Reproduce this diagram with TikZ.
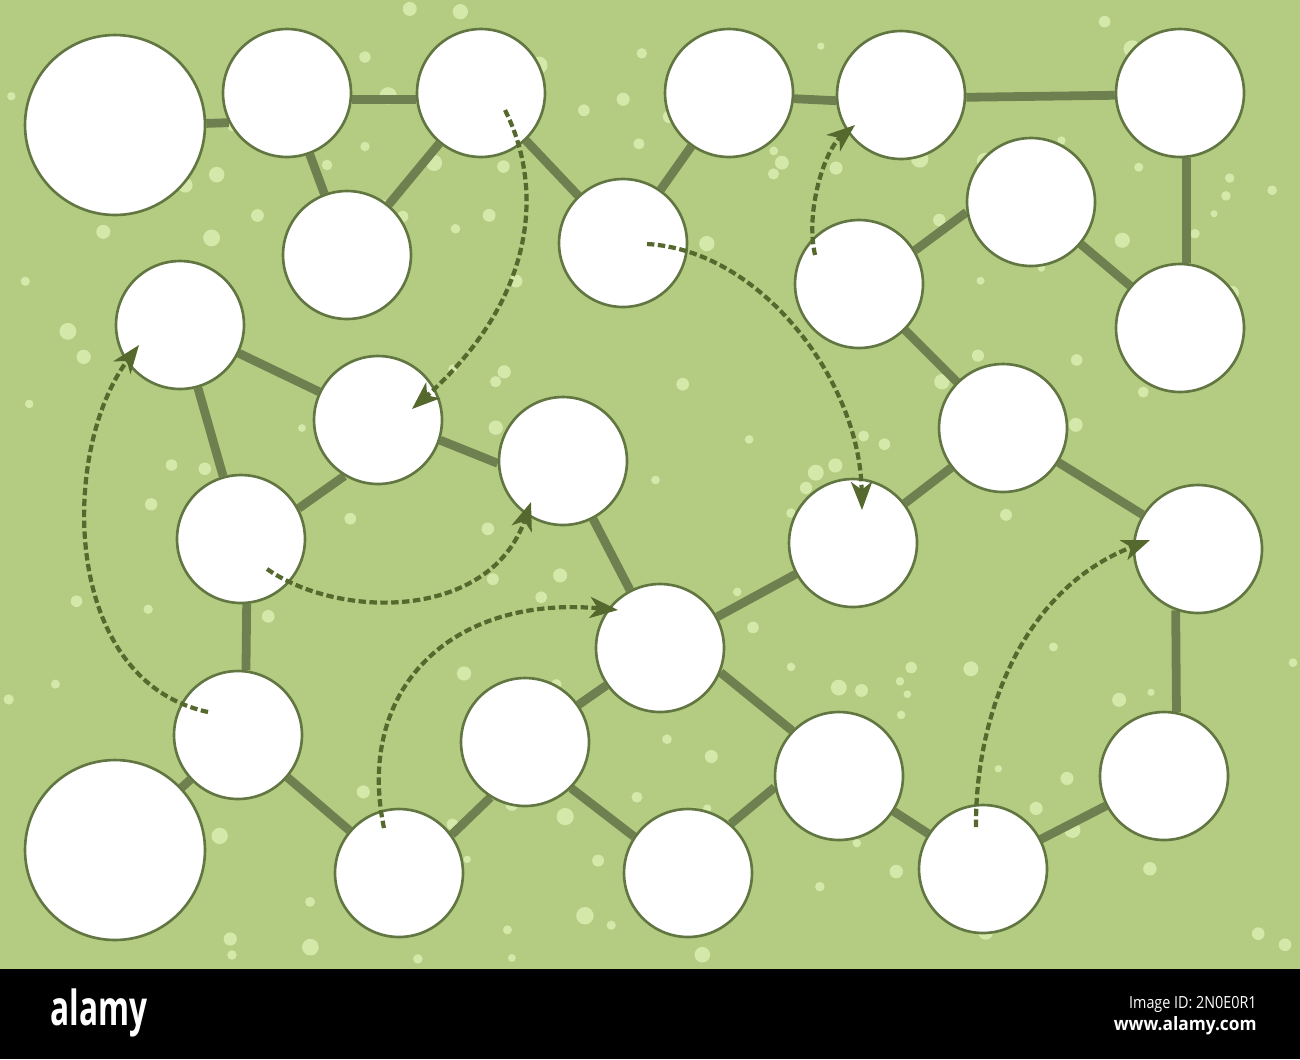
\documentclass[tikz,border=0pt]{standalone}
\usepackage{fontspec}
\newfontfamily\stripfont{Open Sans}
\usetikzlibrary{arrows.meta}
\definecolor{field}{HTML}{B3CC82}
\definecolor{speck}{HTML}{D4E8AA}
\definecolor{road}{HTML}{6F8050}
\definecolor{rim}{HTML}{627642}
\definecolor{hop}{HTML}{55682D}
\pgfdeclarelayer{bg}
\pgfsetlayers{bg,main}
\tikzset{
  spot/.style={circle,draw=rim,fill=white,line width=1.5pt,minimum size=2.56cm,inner sep=0pt},
  bigspot/.style={spot,minimum size=3.6cm},
  link/.style={draw=road,line width=5pt},
  jump/.style={draw=hop,line width=2.4pt,dash pattern=on 4.2pt off 2pt,-{Stealth[length=16pt,width=12pt,inset=4.5pt]}},
  striptext/.style={text=white,inner sep=0pt}
}
\begin{document}
\begin{tikzpicture}[x=0.02cm,y=-0.02cm]
\useasboundingbox (0,0) rectangle (1300,1059);
\begin{pgfonlayer}{bg}
  \fill[field] (0,0) rectangle (1300,969);
  \pgfmathsetseed{2024}
  \foreach \k in {1,...,190}{
    \pgfmathsetmacro\dx{5+1290*rnd}
    \pgfmathsetmacro\dy{5+955*rnd}
    \pgfmathsetmacro\dr{2+3*rnd}
    \fill[speck] (\dx,\dy) circle (\dr pt);
  }
\end{pgfonlayer}
\node[bigspot] (p1) at (115,125) {};
\node[bigspot] (p24) at (115,850) {};
\foreach \n/\x/\y in {p2/287/93, p3/481/93, p4/729/93, p5/901/95, p6/1180/93,
  p7/347/255, p8/623/243, p9/1031/202, p10/859/284, p11/1180/328,
  p12/180/325, p13/378/420, p14/563/461, p15/1003/428, p16/241/539,
  p17/853/543, p18/1198/549, p19/660/648, p20/238/735, p21/525/742,
  p22/839/776, p23/1164/776, p25/399/873, p26/688/873, p27/983/869}
  \node[spot] (\n) at (\x,\y) {};
\begin{pgfonlayer}{bg}
  \draw[link] (p1.1) -- (p2.207);
  \draw[link] (p2.-6) -- (p3.186);
  \draw[link] (p2) -- (p7);
  \draw[link] (p3) -- (p7);
  \draw[link] (p3) -- (p8);
  \draw[link] (p8) -- (p4);
  \draw[link] (p4.-5) -- (p5.185);
  \draw[link] (p5.-2) -- (p6.182);
  \draw[link] (p6.-84) -- (p11.84);
  \draw[link] (p11) -- (p9);
  \draw[link] (p9.189) -- (p10.31);
  \draw[link] (p10) -- (p15);
  \draw[link] (p15) -- (p18);
  \draw[link] (p15) -- (p17);
  \draw[link] (p17) -- (p19);
  \draw[link] (p19) -- (p14);
  \draw[link] (p13.-18) -- (p14.182);
  \draw[link] (p13) -- (p12);
  \draw[link] (p12) -- (p16);
  \draw[link] (p13.239) -- (p16.28);
  \draw[link] (p16.-85) -- (p20.83);
  \draw[link] (p20) -- (p24);
  \draw[link] (p20) -- (p25);
  \draw[link] (p25.36) -- (p21.238);
  \draw[link] (p21) -- (p19);
  \draw[link] (p19.-22) -- (p22.136);
  \draw[link] (p21.-45) -- (p26.146);
  \draw[link] (p26.49) -- (p22.190);
  \draw[link] (p22) -- (p27);
  \draw[link] (p27) -- (p23);
  \draw[link] (p18.250) -- (p23.79);
\end{pgfonlayer}
\coordinate (from3) at (505,110);   \coordinate (to13) at (412,409);
\coordinate (from8) at (647,244);   \coordinate (to17) at (862,510);
\coordinate (from10) at (815,255);  \coordinate (to5) at (855,125);
\coordinate (from20) at (208,712);  \coordinate (to12) at (139,345);
\coordinate (from16) at (267,569);  \coordinate (to14) at (531,502);
\coordinate (from25) at (384,828);  \coordinate (to19) at (618,610);
\coordinate (from27) at (976,827);  \coordinate (to18) at (1150,540);
\draw[jump] (from3) .. controls (545,190) and (535,300) .. (to13);
\draw[jump] (from8) .. controls (760,250) and (860,380) .. (to17);
\draw[jump] (from10) .. controls (805,210) and (825,150) .. (to5);
\draw[jump] (from20) .. controls (60,680) and (60,450) .. (to12);
\draw[jump] (from16) .. controls (340,620) and (490,620) .. (to14);
\draw[jump] (from25) .. controls (355,690) and (450,595) .. (to19);
\draw[jump] (from27) .. controls (975,720) and (1020,590) .. (to18);
\fill[black] (0,969) rectangle (1300,1059);
\node[striptext,anchor=base west] (logo) at (50,1025)
  {\scalebox{0.72}[1.1]{\stripfont\bfseries\fontsize{25}{25}\selectfont alamy}};
\node[striptext,anchor=base east] (imgid) at (1257,1008)
  {\scalebox{0.86}[1]{\stripfont\fontsize{9.5}{10}\selectfont Image ID: 2N0E0R1}};
\node[striptext,anchor=base east] (site) at (1257,1030)
  {\scalebox{0.94}[1]{\stripfont\bfseries\fontsize{10.5}{11}\selectfont www.alamy.com}};
\end{tikzpicture}
\end{document}
